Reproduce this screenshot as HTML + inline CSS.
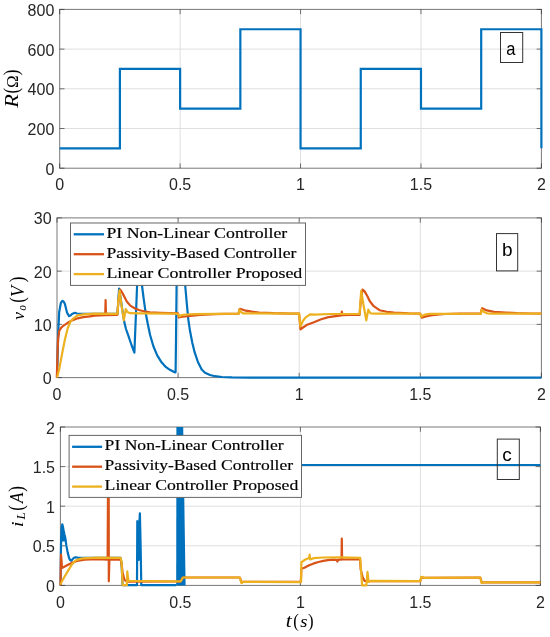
<!DOCTYPE html>
<html><head><meta charset="utf-8"><title>Controller comparison</title>
<style>
html,body{margin:0;padding:0;background:#fff;}
svg{display:block;filter:blur(0.3px);}
.tk{font-family:"Liberation Sans",Arial,sans-serif;font-size:16px;fill:#262626;}
.lg{font-family:"Liberation Serif","Times New Roman",serif;font-size:14.4px;fill:#000;stroke:#000;stroke-width:0.15px;}
.lb{font-family:"Liberation Sans",Arial,sans-serif;font-size:19px;fill:#000;}
.al{font-family:"Liberation Serif","Times New Roman",serif;font-size:18px;fill:#000;}
.it{font-style:italic;}
.sub{font-size:12.5px;}
</style></head>
<body>
<svg width="550" height="637" viewBox="0 0 550 637">
<rect width="550" height="637" fill="#fff"/>
<defs>
<clipPath id="ca"><rect x="57.7" y="7.4" width="485.7" height="162.8"/></clipPath>
<clipPath id="cb"><rect x="55" y="215.9" width="488.4" height="163.7"/></clipPath>
<clipPath id="cc"><rect x="58.4" y="425" width="484" height="162.4"/></clipPath>
</defs>
<line x1="180.12" y1="9.4" x2="180.12" y2="168.2" stroke="#dfdfdf" stroke-width="1"/>
<line x1="300.55" y1="9.4" x2="300.55" y2="168.2" stroke="#dfdfdf" stroke-width="1"/>
<line x1="420.97" y1="9.4" x2="420.97" y2="168.2" stroke="#dfdfdf" stroke-width="1"/>
<line x1="59.7" y1="128.5" x2="541.4" y2="128.5" stroke="#dfdfdf" stroke-width="1"/>
<line x1="59.7" y1="88.8" x2="541.4" y2="88.8" stroke="#dfdfdf" stroke-width="1"/>
<line x1="59.7" y1="49.1" x2="541.4" y2="49.1" stroke="#dfdfdf" stroke-width="1"/>
<rect x="59.7" y="9.4" width="481.7" height="158.8" fill="none" stroke="#262626" stroke-width="1" opacity="0.62"/>
<line x1="59.7" y1="168.2" x2="59.7" y2="163.4" stroke="#262626" stroke-width="1" opacity="0.62"/>
<line x1="59.7" y1="9.4" x2="59.7" y2="14.2" stroke="#262626" stroke-width="1" opacity="0.62"/>
<line x1="180.12" y1="168.2" x2="180.12" y2="163.4" stroke="#262626" stroke-width="1" opacity="0.62"/>
<line x1="180.12" y1="9.4" x2="180.12" y2="14.2" stroke="#262626" stroke-width="1" opacity="0.62"/>
<line x1="300.55" y1="168.2" x2="300.55" y2="163.4" stroke="#262626" stroke-width="1" opacity="0.62"/>
<line x1="300.55" y1="9.4" x2="300.55" y2="14.2" stroke="#262626" stroke-width="1" opacity="0.62"/>
<line x1="420.97" y1="168.2" x2="420.97" y2="163.4" stroke="#262626" stroke-width="1" opacity="0.62"/>
<line x1="420.97" y1="9.4" x2="420.97" y2="14.2" stroke="#262626" stroke-width="1" opacity="0.62"/>
<line x1="541.4" y1="168.2" x2="541.4" y2="163.4" stroke="#262626" stroke-width="1" opacity="0.62"/>
<line x1="541.4" y1="9.4" x2="541.4" y2="14.2" stroke="#262626" stroke-width="1" opacity="0.62"/>
<line x1="59.7" y1="168.2" x2="64.5" y2="168.2" stroke="#262626" stroke-width="1" opacity="0.62"/>
<line x1="541.4" y1="168.2" x2="536.6" y2="168.2" stroke="#262626" stroke-width="1" opacity="0.62"/>
<line x1="59.7" y1="128.5" x2="64.5" y2="128.5" stroke="#262626" stroke-width="1" opacity="0.62"/>
<line x1="541.4" y1="128.5" x2="536.6" y2="128.5" stroke="#262626" stroke-width="1" opacity="0.62"/>
<line x1="59.7" y1="88.8" x2="64.5" y2="88.8" stroke="#262626" stroke-width="1" opacity="0.62"/>
<line x1="541.4" y1="88.8" x2="536.6" y2="88.8" stroke="#262626" stroke-width="1" opacity="0.62"/>
<line x1="59.7" y1="49.1" x2="64.5" y2="49.1" stroke="#262626" stroke-width="1" opacity="0.62"/>
<line x1="541.4" y1="49.1" x2="536.6" y2="49.1" stroke="#262626" stroke-width="1" opacity="0.62"/>
<line x1="59.7" y1="9.4" x2="64.5" y2="9.4" stroke="#262626" stroke-width="1" opacity="0.62"/>
<line x1="541.4" y1="9.4" x2="536.6" y2="9.4" stroke="#262626" stroke-width="1" opacity="0.62"/>
<text x="59.7" y="190.4" class="tk" text-anchor="middle">0</text>
<text x="180.12" y="190.4" class="tk" text-anchor="middle">0.5</text>
<text x="300.55" y="190.4" class="tk" text-anchor="middle">1</text>
<text x="420.97" y="190.4" class="tk" text-anchor="middle">1.5</text>
<text x="541.4" y="190.4" class="tk" text-anchor="middle">2</text>
<text x="54.3" y="174.7" class="tk" text-anchor="end">0</text>
<text x="54.3" y="135" class="tk" text-anchor="end">200</text>
<text x="54.3" y="95.3" class="tk" text-anchor="end">400</text>
<text x="54.3" y="55.6" class="tk" text-anchor="end">600</text>
<text x="54.3" y="15.9" class="tk" text-anchor="end">800</text>
<path d="M59.7 148.35 L119.91 148.35 L119.91 68.95 L180.12 68.95 L180.12 108.65 L240.34 108.65 L240.34 29.25 L300.55 29.25 L300.55 148.35 L360.76 148.35 L360.76 68.95 L420.97 68.95 L420.97 108.65 L481.19 108.65 L481.19 29.25 L541.4 29.25 L541.4 148.35" fill="none" stroke="#0072BD" stroke-width="2.2" stroke-linejoin="miter"/>
<rect x="500.5" y="32.5" width="22.2" height="30" fill="none" stroke="#333" stroke-width="1"/>
<text transform="translate(510.9,55) scale(0.87,1)" class="lb" text-anchor="middle">a</text>
<line x1="178.1" y1="217.9" x2="178.1" y2="377.6" stroke="#dfdfdf" stroke-width="1"/>
<line x1="299.2" y1="217.9" x2="299.2" y2="377.6" stroke="#dfdfdf" stroke-width="1"/>
<line x1="420.3" y1="217.9" x2="420.3" y2="377.6" stroke="#dfdfdf" stroke-width="1"/>
<line x1="57" y1="324.37" x2="541.4" y2="324.37" stroke="#dfdfdf" stroke-width="1"/>
<line x1="57" y1="271.13" x2="541.4" y2="271.13" stroke="#dfdfdf" stroke-width="1"/>
<rect x="57" y="217.9" width="484.4" height="159.7" fill="none" stroke="#262626" stroke-width="1" opacity="0.62"/>
<line x1="57" y1="377.6" x2="57" y2="372.8" stroke="#262626" stroke-width="1" opacity="0.62"/>
<line x1="57" y1="217.9" x2="57" y2="222.7" stroke="#262626" stroke-width="1" opacity="0.62"/>
<line x1="178.1" y1="377.6" x2="178.1" y2="372.8" stroke="#262626" stroke-width="1" opacity="0.62"/>
<line x1="178.1" y1="217.9" x2="178.1" y2="222.7" stroke="#262626" stroke-width="1" opacity="0.62"/>
<line x1="299.2" y1="377.6" x2="299.2" y2="372.8" stroke="#262626" stroke-width="1" opacity="0.62"/>
<line x1="299.2" y1="217.9" x2="299.2" y2="222.7" stroke="#262626" stroke-width="1" opacity="0.62"/>
<line x1="420.3" y1="377.6" x2="420.3" y2="372.8" stroke="#262626" stroke-width="1" opacity="0.62"/>
<line x1="420.3" y1="217.9" x2="420.3" y2="222.7" stroke="#262626" stroke-width="1" opacity="0.62"/>
<line x1="541.4" y1="377.6" x2="541.4" y2="372.8" stroke="#262626" stroke-width="1" opacity="0.62"/>
<line x1="541.4" y1="217.9" x2="541.4" y2="222.7" stroke="#262626" stroke-width="1" opacity="0.62"/>
<line x1="57" y1="377.6" x2="61.8" y2="377.6" stroke="#262626" stroke-width="1" opacity="0.62"/>
<line x1="541.4" y1="377.6" x2="536.6" y2="377.6" stroke="#262626" stroke-width="1" opacity="0.62"/>
<line x1="57" y1="324.37" x2="61.8" y2="324.37" stroke="#262626" stroke-width="1" opacity="0.62"/>
<line x1="541.4" y1="324.37" x2="536.6" y2="324.37" stroke="#262626" stroke-width="1" opacity="0.62"/>
<line x1="57" y1="271.13" x2="61.8" y2="271.13" stroke="#262626" stroke-width="1" opacity="0.62"/>
<line x1="541.4" y1="271.13" x2="536.6" y2="271.13" stroke="#262626" stroke-width="1" opacity="0.62"/>
<line x1="57" y1="217.9" x2="61.8" y2="217.9" stroke="#262626" stroke-width="1" opacity="0.62"/>
<line x1="541.4" y1="217.9" x2="536.6" y2="217.9" stroke="#262626" stroke-width="1" opacity="0.62"/>
<text x="57" y="399.8" class="tk" text-anchor="middle">0</text>
<text x="178.1" y="399.8" class="tk" text-anchor="middle">0.5</text>
<text x="299.2" y="399.8" class="tk" text-anchor="middle">1</text>
<text x="420.3" y="399.8" class="tk" text-anchor="middle">1.5</text>
<text x="541.4" y="399.8" class="tk" text-anchor="middle">2</text>
<text x="51.6" y="384.1" class="tk" text-anchor="end">0</text>
<text x="51.6" y="330.87" class="tk" text-anchor="end">10</text>
<text x="51.6" y="277.63" class="tk" text-anchor="end">20</text>
<text x="51.6" y="224.4" class="tk" text-anchor="end">30</text>
<path d="M57 377.6 L57.5 362 L58.1 335 L59.2 312 L60.9 302.7 L62.6 300.8 L64 302 L64.9 304.1 L67 312.6 L69.1 316.1 L70.5 315.5 L72 314 L74.8 312.8 L77 313.5 L80 313.9 L117.6 313.9 L118.3 300 L119.1 288.5 L120.5 297 L122.1 308.5 L124.4 322.6 L126 329 L127.9 334.4 L131.5 345 L134.4 352.6 L135.2 332 L136.2 308.5 L137.1 285 L139.3 262 L142 285.5 L143.9 300.4 L145.7 313 L147.8 324 L150.1 335 L153.3 346 L157.2 355.4 L161.1 361.7 L166 367.2 L169.9 369.8 L175.1 372.5 L175.6 372.3 L176 340 L176.6 285 L180.5 258 L185.2 285.5 L186.8 303.6 L188.3 319.3 L189.9 330.3 L192.3 342.8 L194.6 352.2 L197.8 361.7 L201.7 369.5 L205 372.7 L210 375 L215 376.2 L222 377 L232 377.4 L250 377.6 L541.4 377.6" fill="none" stroke="#0072BD" stroke-width="2.2" stroke-linejoin="round" clip-path="url(#cb)"/>
<path d="M56.8 377.6 L57.3 362 L57.5 353.6 L58.1 339.5 L59.2 331 L60.3 329 L61.4 327.5 L63.5 325.6 L66.3 323.9 L69 322 L72 320.4 L77.6 318.3 L83.3 317.1 L90 316.3 L94.6 315.7 L105 315.2 L105.3 312 L105.6 300 L105.9 312 L106.2 315.2 L117.3 315 L118.5 300 L120.3 289.7 L121.5 291.5 L123.2 294.4 L126.8 301.5 L130.3 305.6 L135 308.5 L139.7 310.3 L145 311.5 L150 312.3 L160 312.8 L170 313.2 L178.1 313.4 L178.9 317.5 L181 317 L185 316.5 L190 315.8 L200 314.9 L215 314.1 L225 313.9 L238.6 313.7 L239.2 310 L239.9 308.8 L244.5 310.3 L251.8 311.7 L259.1 312.5 L273.6 313.2 L290 313.6 L299.1 313.7 L300.5 329.3 L303 327.5 L306.6 325.1 L313.9 322.2 L321.2 319.3 L328.5 317.1 L335.7 316.1 L341.3 315.3 L341.8 311.7 L342.3 315.2 L350 314.9 L359.6 314.9 L361 298 L362.6 289.5 L364.8 291.6 L367.7 296.7 L369.4 300.5 L371.4 303.3 L373.7 306.2 L379.5 310.2 L386.8 311.8 L394.1 312.5 L408.6 313.3 L420.2 313.6 L421.7 317.6 L425 316.6 L430.5 315.5 L437 314.6 L445 314 L460 313.7 L480.9 313.6 L481.5 310 L482.2 308.2 L486.8 310.4 L494.1 311.8 L505.7 312.5 L517 313.1 L530 313.5 L541.4 313.6" fill="none" stroke="#D95319" stroke-width="2.2" stroke-linejoin="round" clip-path="url(#cb)"/>
<path d="M57.1 377.6 L59.2 369.2 L62.1 353.6 L64.9 339.5 L67.7 328.2 L70.5 321.8 L73.4 318.3 L77.6 315.4 L83.3 314.3 L94.6 313.7 L117.6 313.8 L118.2 302 L119.5 290.3 L121.5 305 L123.8 320.3 L125.8 309.1 L127.4 312.1 L130 313.2 L140 313.4 L175.9 313.6 L178 314 L179.5 316.3 L181.5 315.2 L186 314.5 L195 314.1 L238.6 313.7 L239.5 309.6 L241 312 L243 313.3 L299.1 313.7 L300.5 326.5 L303 320.7 L305.9 317.1 L309.5 314.9 L310 314.4 L315 314.6 L330 314 L359.6 313.8 L361.2 290.9 L363.5 305 L366.3 320.3 L368.3 309.7 L370.5 313.3 L375 313.7 L420.2 313.7 L421.3 316.6 L423 315.5 L426 314.3 L430 313.8 L480.9 313.7 L481.7 309.6 L484 312 L487 313.3 L491 313.7 L541.4 313.6" fill="none" stroke="#EDB120" stroke-width="2.2" stroke-linejoin="round" clip-path="url(#cb)"/>
<rect x="70.5" y="223" width="235" height="62.4" fill="#fff" stroke="#666" stroke-width="1" opacity="1"/>
<line x1="73.7" y1="234.3" x2="104" y2="234.3" stroke="#0072BD" stroke-width="2.3"/>
<text x="106.4" y="237.6" class="lg" textLength="180.9" lengthAdjust="spacingAndGlyphs">PI Non-Linear Controller</text>
<line x1="73.7" y1="254.2" x2="104" y2="254.2" stroke="#D95319" stroke-width="2.3"/>
<text x="106.4" y="257.6" class="lg" textLength="190" lengthAdjust="spacingAndGlyphs">Passivity-Based Controller</text>
<line x1="73.7" y1="274.1" x2="104" y2="274.1" stroke="#EDB120" stroke-width="2.3"/>
<text x="106.4" y="277.6" class="lg" textLength="195.9" lengthAdjust="spacingAndGlyphs">Linear Controller Proposed</text>
<rect x="496.5" y="233.6" width="21.2" height="37.3" fill="none" stroke="#333" stroke-width="1"/>
<text transform="translate(507.3,255.5) scale(1.0,1)" class="lb" text-anchor="middle">b</text>
<line x1="180.4" y1="427" x2="180.4" y2="585.4" stroke="#dfdfdf" stroke-width="1"/>
<line x1="300.4" y1="427" x2="300.4" y2="585.4" stroke="#dfdfdf" stroke-width="1"/>
<line x1="420.4" y1="427" x2="420.4" y2="585.4" stroke="#dfdfdf" stroke-width="1"/>
<line x1="60.4" y1="545.8" x2="540.4" y2="545.8" stroke="#dfdfdf" stroke-width="1"/>
<line x1="60.4" y1="506.2" x2="540.4" y2="506.2" stroke="#dfdfdf" stroke-width="1"/>
<line x1="60.4" y1="466.6" x2="540.4" y2="466.6" stroke="#dfdfdf" stroke-width="1"/>
<rect x="60.4" y="427" width="480" height="158.4" fill="none" stroke="#262626" stroke-width="1" opacity="0.62"/>
<line x1="60.4" y1="585.4" x2="60.4" y2="580.6" stroke="#262626" stroke-width="1" opacity="0.62"/>
<line x1="60.4" y1="427" x2="60.4" y2="431.8" stroke="#262626" stroke-width="1" opacity="0.62"/>
<line x1="180.4" y1="585.4" x2="180.4" y2="580.6" stroke="#262626" stroke-width="1" opacity="0.62"/>
<line x1="180.4" y1="427" x2="180.4" y2="431.8" stroke="#262626" stroke-width="1" opacity="0.62"/>
<line x1="300.4" y1="585.4" x2="300.4" y2="580.6" stroke="#262626" stroke-width="1" opacity="0.62"/>
<line x1="300.4" y1="427" x2="300.4" y2="431.8" stroke="#262626" stroke-width="1" opacity="0.62"/>
<line x1="420.4" y1="585.4" x2="420.4" y2="580.6" stroke="#262626" stroke-width="1" opacity="0.62"/>
<line x1="420.4" y1="427" x2="420.4" y2="431.8" stroke="#262626" stroke-width="1" opacity="0.62"/>
<line x1="540.4" y1="585.4" x2="540.4" y2="580.6" stroke="#262626" stroke-width="1" opacity="0.62"/>
<line x1="540.4" y1="427" x2="540.4" y2="431.8" stroke="#262626" stroke-width="1" opacity="0.62"/>
<line x1="60.4" y1="585.4" x2="65.2" y2="585.4" stroke="#262626" stroke-width="1" opacity="0.62"/>
<line x1="540.4" y1="585.4" x2="535.6" y2="585.4" stroke="#262626" stroke-width="1" opacity="0.62"/>
<line x1="60.4" y1="545.8" x2="65.2" y2="545.8" stroke="#262626" stroke-width="1" opacity="0.62"/>
<line x1="540.4" y1="545.8" x2="535.6" y2="545.8" stroke="#262626" stroke-width="1" opacity="0.62"/>
<line x1="60.4" y1="506.2" x2="65.2" y2="506.2" stroke="#262626" stroke-width="1" opacity="0.62"/>
<line x1="540.4" y1="506.2" x2="535.6" y2="506.2" stroke="#262626" stroke-width="1" opacity="0.62"/>
<line x1="60.4" y1="466.6" x2="65.2" y2="466.6" stroke="#262626" stroke-width="1" opacity="0.62"/>
<line x1="540.4" y1="466.6" x2="535.6" y2="466.6" stroke="#262626" stroke-width="1" opacity="0.62"/>
<line x1="60.4" y1="427" x2="65.2" y2="427" stroke="#262626" stroke-width="1" opacity="0.62"/>
<line x1="540.4" y1="427" x2="535.6" y2="427" stroke="#262626" stroke-width="1" opacity="0.62"/>
<text x="60.4" y="607.6" class="tk" text-anchor="middle">0</text>
<text x="180.4" y="607.6" class="tk" text-anchor="middle">0.5</text>
<text x="300.4" y="607.6" class="tk" text-anchor="middle">1</text>
<text x="420.4" y="607.6" class="tk" text-anchor="middle">1.5</text>
<text x="540.4" y="607.6" class="tk" text-anchor="middle">2</text>
<text x="55" y="591.9" class="tk" text-anchor="end">0</text>
<text x="55" y="552.3" class="tk" text-anchor="end">0.5</text>
<text x="55" y="512.7" class="tk" text-anchor="end">1</text>
<text x="55" y="473.1" class="tk" text-anchor="end">1.5</text>
<text x="55" y="433.5" class="tk" text-anchor="end">2</text>
<path d="M60.6 585.4 L60.8 560 L61.1 540 L61.6 528 L62.3 524.3 L63 527 L63.5 530 L62.9 540.5 L63.7 531 L64.3 533.5 L64 540.5 L64.8 535.5 L65.6 539.6 L66.3 545.4 L67.7 552.6 L69.2 558.4 L70.4 560.5 L71.3 560.7 L72.1 559.7 L74 557.8 L75.9 557.2 L77.5 557.6 L79.6 557.8 L90 557.8 L120.7 557.8 L121.6 565 L122.6 585.2 L137 585.2 L137.3 521.2 L138.2 522 L138.7 560 L139.2 525 L139.9 513.4 L140.6 545 L141.3 585.2 L176.2 585.2" fill="none" stroke="#0072BD" stroke-width="2.2" stroke-linejoin="round" clip-path="url(#cc)"/>
<path d="M185.6 465 L540.4 465" fill="none" stroke="#0072BD" stroke-width="2.2" stroke-linejoin="round" clip-path="url(#cc)"/>
<polygon points="176.2,585.4 176.4,427 183.2,427 185.6,585.4" fill="#0072BD" clip-path="url(#cc)"/>
<path d="M60.5 585.4 L60.7 570 L61 554.5 L61.5 560 L62 567.9 L63 567.5 L67.1 565.3 L72.1 562.8 L77.1 560.9 L84.7 559.7 L97 559.1 L107.6 559.6 L108.1 470 L108.4 440 L108.7 470 L108.8 581.3 L109.1 570 L109.4 559.6 L120.5 559.4 L121.5 563 L122.6 572.4 L124.5 579.9 L127 581.6 L176 581.5 L180.7 581.3 L182.9 577.5 L239.9 577.5 L241.6 582.6 L243 581.8 L300.8 581.8 L301.4 568.6 L304.4 567.7 L309.1 565.3 L313.8 563.4 L318.5 562 L323.2 560.9 L328 560.1 L332.7 559.7 L336.5 559.8 L337.4 561.5 L338.3 559.7 L341.5 559.7 L341.8 538.5 L342.1 559.5 L350 559.3 L360 559.2 L360.7 569.5 L362.6 577.1 L364.5 580.8 L367 581.2 L380 581.1 L420.3 581.2 L421.3 577.3 L423 577.8 L480.3 577.5 L481.8 582.6 L483.5 582.3 L540.4 582.3" fill="none" stroke="#D95319" stroke-width="2.2" stroke-linejoin="round" clip-path="url(#cc)"/>
<path d="M60.5 584.6 L62 581.1 L64.5 576.7 L68.3 570.4 L72.1 564.1 L75.9 560.3 L82.2 558.4 L97 557.6 L120.7 557.8 L121.6 562.9 L122.6 585.2 L126.8 585.2 L127.3 571.4 L128 578 L128.7 580.8 L176 581.3 L180.7 581.3 L182.9 577.5 L239.9 577.5 L241.4 582.9 L242.4 582.4 L244 581.8 L301.1 582.1 L301.4 562 L302.5 561.5 L304.4 560.1 L307.2 558.7 L309.2 557.8 L309.6 554.7 L310.1 559.5 L313.8 558.1 L323.2 557.5 L340 557.4 L360.2 557.8 L362.1 585.4 L366.4 585.4 L367.5 571.9 L368.6 582 L370 580.8 L420.3 581.2 L421.3 577.1 L422.5 576.8 L424 577.8 L480.3 577.5 L481.6 582.9 L482.7 582.6 L484 582.3 L540.4 582.3" fill="none" stroke="#EDB120" stroke-width="2.2" stroke-linejoin="round" clip-path="url(#cc)"/>
<rect x="69.1" y="435.4" width="232.4" height="62" fill="#fff" stroke="#666" stroke-width="1" opacity="1"/>
<line x1="72.1" y1="446.8" x2="102.1" y2="446.8" stroke="#0072BD" stroke-width="2.3"/>
<text x="104.6" y="450.4" class="lg" textLength="179" lengthAdjust="spacingAndGlyphs">PI Non-Linear Controller</text>
<line x1="72.1" y1="466.7" x2="102.1" y2="466.7" stroke="#D95319" stroke-width="2.3"/>
<text x="104.6" y="470.3" class="lg" textLength="188.5" lengthAdjust="spacingAndGlyphs">Passivity-Based Controller</text>
<line x1="72.1" y1="486.6" x2="102.1" y2="486.6" stroke="#EDB120" stroke-width="2.3"/>
<text x="104.6" y="490.2" class="lg" textLength="193.7" lengthAdjust="spacingAndGlyphs">Linear Controller Proposed</text>
<rect x="497.3" y="439.1" width="22" height="40.4" fill="none" stroke="#333" stroke-width="1"/>
<text transform="translate(507,461.4) scale(1.0,1)" class="lb" text-anchor="middle">c</text>
<text transform="translate(18.00,107.90) rotate(-90) scale(1.199,1)" x="0.10" class="al it" style="font-size:18.5px">R</text>
<text transform="translate(18.00,92.83) rotate(-90) scale(0.850,1)" x="-0.88" class="al" style="font-size:20.0px">(</text>
<text transform="translate(18.00,87.10) rotate(-90) scale(0.963,1)" x="-0.92" class="al" style="font-size:17.7px">Ω</text>
<text transform="translate(18.00,74.63) rotate(-90) scale(0.850,1)" x="-0.64" class="al" style="font-size:20.0px">)</text>
<text transform="translate(23.80,319.40) rotate(-90) scale(1.043,1)" x="-0.23" class="al it" style="font-size:16.5px">v</text>
<text transform="translate(25.80,310.09) rotate(-90) scale(0.850,1)" x="-0.37" class="al it" style="font-size:12.5px">o</text>
<text transform="translate(23.80,302.13) rotate(-90) scale(0.850,1)" x="-0.88" class="al" style="font-size:20.0px">(</text>
<text transform="translate(23.80,296.10) rotate(-90) scale(0.982,1)" x="-0.97" class="al it" style="font-size:18.5px">V</text>
<text transform="translate(23.80,281.73) rotate(-90) scale(0.850,1)" x="-0.64" class="al" style="font-size:20.0px">)</text>
<text transform="translate(22.60,526.04) rotate(-90) scale(1.250,1)" x="-0.95" class="al it" style="font-size:17.0px">i</text>
<text transform="translate(24.60,519.60) rotate(-90) scale(0.968,1)" x="0.16" class="al it" style="font-size:13.5px">L</text>
<text transform="translate(22.60,510.13) rotate(-90) scale(0.850,1)" x="-0.88" class="al" style="font-size:20.0px">(</text>
<text transform="translate(22.60,504.00) rotate(-90) scale(0.947,1)" x="0.98" class="al it" style="font-size:18.0px">A</text>
<text transform="translate(22.60,491.13) rotate(-90) scale(0.850,1)" x="-0.64" class="al" style="font-size:20.0px">)</text>
<text transform="translate(286.70,627.40) scale(1.119,1)" x="-0.83" class="al it" style="font-size:19.0px">t</text>
<text transform="translate(294.10,627.40) scale(0.850,1)" x="-0.87" class="al" style="font-size:19.7px">(</text>
<text transform="translate(300.40,627.40) scale(1.119,1)" x="-0.20" class="al it" style="font-size:16.5px">s</text>
<text transform="translate(308.50,627.40) scale(0.850,1)" x="-0.63" class="al" style="font-size:19.7px">)</text>
</svg>
</body></html>
